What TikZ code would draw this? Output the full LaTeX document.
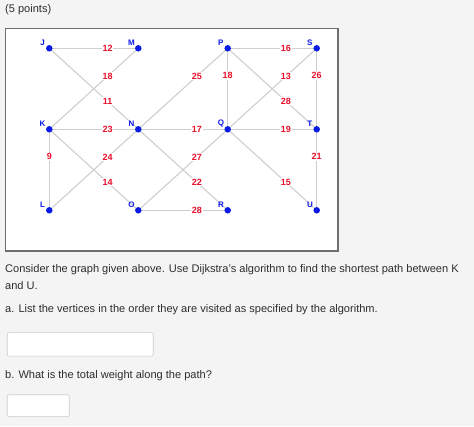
\documentclass[tikz,border=0pt]{standalone}
\usepackage{fontspec}
\setmainfont{Liberation Sans}
\definecolor{pagebg}{HTML}{F4F4F4}
\definecolor{framegray}{HTML}{6E6E6E}
\definecolor{vblue}{HTML}{0A1AE6}
\definecolor{egray}{HTML}{CFCFCF}
\definecolor{wred}{HTML}{E8102A}
\definecolor{txt}{HTML}{2E2E2E}
\definecolor{boxgray}{HTML}{CCCCCC}
\begin{document}
\begin{tikzpicture}[x=1pt,y=-1pt,
  vtx/.style={circle,fill=vblue,inner sep=0pt,minimum size=6.5pt},
  vlab/.style={text=vblue,font=\fontsize{8}{8}\selectfont\bfseries,inner sep=0pt},
  edge/.style={draw=egray,line width=1.1pt},
  wt/.style={text=wred,font=\fontsize{9}{9}\selectfont\bfseries,fill=white,inner sep=0.8pt},
  qtext/.style={text=txt,font=\fontsize{11.05}{12}\selectfont,anchor=west,inner sep=0pt},
  inbox/.style={draw=boxgray,fill=white,rounded corners=2pt,line width=0.6pt}]
\fill[pagebg] (0,0) rectangle (474,426);
\useasboundingbox (0,0) rectangle (474,426);
\draw[framegray,line width=1.6pt,fill=white] (5.5,28.5) rectangle (338,251);
% vertex positions
\coordinate (J) at (49.3,48.3);
\coordinate (M) at (138.3,48.3);
\coordinate (P) at (227.7,48.3);
\coordinate (S) at (316.7,48.3);
\coordinate (K) at (49.3,129.3);
\coordinate (N) at (138.3,129.3);
\coordinate (Q) at (227.7,129.3);
\coordinate (T) at (316.7,129.3);
\coordinate (L) at (49.3,210.3);
\coordinate (O) at (138.3,210.3);
\coordinate (R) at (227.7,210.3);
\coordinate (U) at (316.7,210.3);
% edges (left to right, labels at 0.655; vertical top to bottom at 0.34)
\path[edge] (J) -- (M) node[wt,pos=0.655] {12};
\path[edge] (K) -- (M) node[wt,pos=0.655] {18};
\path[edge] (J) -- (N) node[wt,pos=0.655] {11};
\path[edge] (N) -- (P) node[wt,pos=0.655] {25};
\path[edge] (P) -- (Q) node[wt,pos=0.34] {18};
\path[edge] (P) -- (S) node[wt,pos=0.655] {16};
\path[edge] (Q) -- (S) node[wt,pos=0.655] {13};
\path[edge] (S) -- (T) node[wt,pos=0.34] {26};
\path[edge] (P) -- (T) node[wt,pos=0.655] {28};
\path[edge] (K) -- (N) node[wt,pos=0.655] {23};
\path[edge] (N) -- (Q) node[wt,pos=0.655] {17};
\path[edge] (Q) -- (T) node[wt,pos=0.655] {19};
\path[edge] (K) -- (L) node[wt,pos=0.34] {9};
\path[edge] (L) -- (N) node[wt,pos=0.655] {24};
\path[edge] (K) -- (O) node[wt,pos=0.655] {14};
\path[edge] (O) -- (Q) node[wt,pos=0.655] {27};
\path[edge] (N) -- (R) node[wt,pos=0.655] {22};
\path[edge] (O) -- (R) node[wt,pos=0.655] {28};
\path[edge] (T) -- (U) node[wt,pos=0.34] {21};
\path[edge] (Q) -- (U) node[wt,pos=0.655] {15};
% vertices
\foreach \v in {J,M,P,S,K,N,Q,T,L,O,R,U}{
  \node[vtx] (\v d) at (\v) {};
  \node[vlab] (\v l) at ([xshift=-6.8pt,yshift=6pt]\v) {\v};
}
% text
\node[qtext] (pts) at (5,10) {(5 points)};
\node[qtext] (q1) at (5,270) {Consider the graph given above. Use Dijkstra's algorithm to find the shortest path between K};
\node[qtext] (q2) at (5,286) {and U.};
\node[qtext] (qa) at (5,310) {a. List the vertices in the order they are visited as specified by the algorithm.};
\node[inbox,minimum width=146pt,minimum height=23.5pt] (boxa) at (80.2,344.4) {};
\node[qtext] (qb) at (5,376) {b. What is the total weight along the path?};
\node[inbox,minimum width=62pt,minimum height=22pt] (boxb) at (38.2,405.7) {};
\end{tikzpicture}
\end{document}
